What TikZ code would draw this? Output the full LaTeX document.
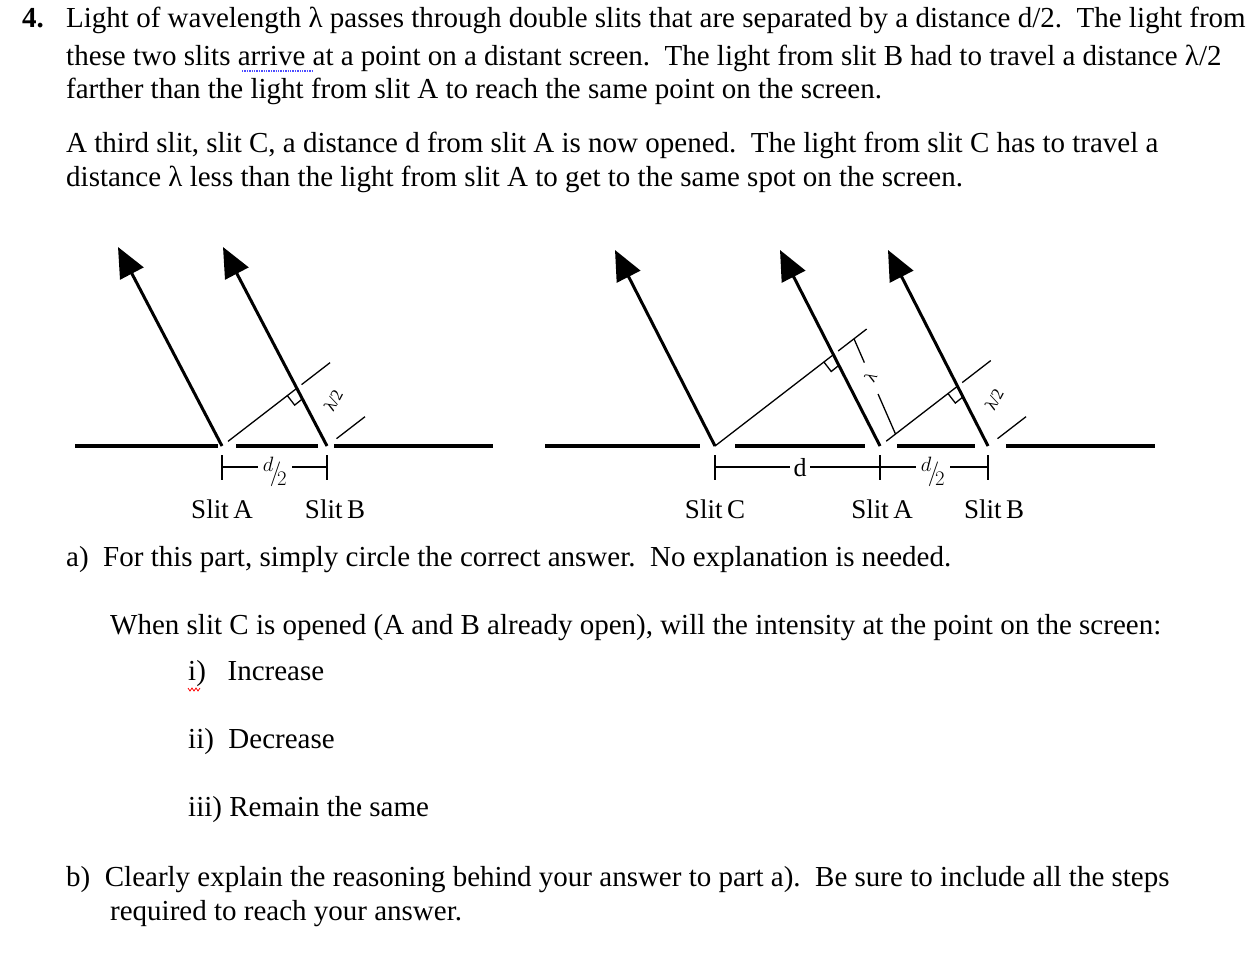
\documentclass[tikz,border=0pt]{standalone}
\usepackage{fontspec}
\setmainfont{Liberation Serif}
\usetikzlibrary{calc,arrows.meta,intersections}
\begin{document}
\begin{tikzpicture}[x=1pt,y=-1pt,
  txt/.style={anchor=base west,inner sep=0,font=\fontsize{29}{30}\selectfont},
  lbl/.style={anchor=base,inner sep=0,font=\fontsize{27}{28}\selectfont},
  scr/.style={line width=4.5pt},
  ray/.style={line width=3pt,-{Triangle[length=30pt,width=26pt]}},
  thin/.style={line width=1.3pt},
  dim/.style={line width=1.6pt},
  lam/.style={rotate=62,font=\fontsize{17}{17}\selectfont,inner sep=0}]
\useasboundingbox (0,0) rectangle (1246,966);
\clip (0,0) rectangle (1246,966);
% text
\node[txt,font=\bfseries\fontsize{29}{30}\selectfont] (n4) at (22,28) {4.};
\node[txt] (l1) at (66,28) {Light of wavelength λ passes through double slits that are separated by a distance d/2.\ \ The light from};
\node[txt] (l2) at (66,66) {these two slits arrive at a point on a distant screen.\ \ The light from slit B had to travel a distance λ/2};
\node[txt] (l3) at (66,98) {farther than the light from slit A to reach the same point on the screen.};
\draw[blue!70,densely dotted,line width=1.4pt] (242,71) -- (312,71);
\node[txt] (l4) at (66,152) {A third slit, slit C, a distance d from slit A is now opened.\ \ The light from slit C has to travel a};
\node[txt] (l5) at (66,186) {distance λ less than the light from slit A to get to the same spot on the screen.};
\node[txt] (qa) at (66,566) {a)\ \ For this part, simply circle the correct answer.\ \ No explanation is needed.};
\node[txt] (q1) at (110,634) {When slit C is opened (A and B already open), will the intensity at the point on the screen:};
\node[txt] (o1) at (188,680) {i)\ \ \ Increase};
\draw[red,line width=0.8pt] (188,688) -- (190,691) -- (192,688) -- (194,691) -- (196,688) -- (198,691) -- (200,688);
\node[txt] (o2) at (188,748) {ii)\ \ Decrease};
\node[txt] (o3) at (188,816) {iii) Remain the same};
\node[txt] (qb) at (66,886) {b)\ \ Clearly explain the reasoning behind your answer to part a).\ \ Be sure to include all the steps};
\node[txt] (qb2) at (110,920) {required to reach your answer.};
% ---- left diagram
\coordinate (A) at (222,446); \coordinate (B) at (327,446);
\coordinate (At) at (118,247); \coordinate (Bt) at (223,247);
\draw[scr] (75,446) -- (218,446); \draw[scr] (236,446) -- (318,446); \draw[scr] (334,446) -- (493,446);
\draw[ray,name path=rb] (B) -- (Bt); \draw[ray] (A) -- (At);
\path[name path=pa] (A) -- ++(140,-108);
\path[name intersections={of=pa and rb,by=F}];
\coordinate (Bp) at ($(B)+(F)-(A)$);
\draw[thin] ($(A)!0.08!(F)$) -- (F);
\draw[thin] ($(F)!12pt!(A)$) -- ($(F)!12pt!(A)!12pt!-90:(F)$) -- ($(F)!12pt!(B)$);
\draw[thin] ($(F)!-6pt!(A)$) -- ($(F)!-42pt!(A)$);
\draw[thin] ($(B)!12pt!(Bp)$) -- ($(B)!48pt!(Bp)$);
\node[lam] (lamL) at ($($(F)!-24pt!(A)$)!0.5!($(B)!30pt!(Bp)$)$) {λ/2};
\draw[dim] (A)++(0,9) -- ++(0,25); \draw[dim] (B)++(0,9) -- ++(0,25);
\draw[dim] (222,467) -- (258,467); \draw[dim] (292,467) -- (327,467);
\node[inner sep=0,font=\fontsize{28}{28}\selectfont] (dh) at (275,472) {$^d\!/\!_2$};
\node[lbl] (sA) at (222,518) {Slit\,A}; \node[lbl] (sB) at (335,518) {Slit\,B};
% ---- right diagram
\coordinate (C2) at (715,446); \coordinate (A2) at (880,446); \coordinate (B2) at (988,446);
\coordinate (Ct) at (615,250); \coordinate (At2) at (780,250); \coordinate (Bt2) at (888,250);
\draw[scr] (545,446) -- (700,446); \draw[scr] (735,446) -- (865,446); \draw[scr] (897,446) -- (975,446); \draw[scr] (1006,446) -- (1155,446);
\draw[ray] (C2) -- (Ct); \draw[ray,name path=ra2] (A2) -- (At2); \draw[ray,name path=rb2] (B2) -- (Bt2);
\path[name path=pc] (C2) -- ++(210,-162);
\path[name intersections={of=pc and ra2,by=F1}];
\draw[thin] (C2) -- (F1);
\draw[thin] ($(F1)!12pt!(C2)$) -- ($(F1)!12pt!(C2)!12pt!-90:(F1)$) -- ($(F1)!12pt!(A2)$);
\draw[thin] ($(F1)!-6pt!(C2)$) -- ($(F1)!-42pt!(C2)$);
\path[name path=pa2] (A2) -- ++(140,-108);
\path[name intersections={of=pa2 and rb2,by=F2}];
\coordinate (Bp2) at ($(B2)+(F2)-(A2)$);
\draw[thin] ($(A2)!0.08!(F2)$) -- (F2);
\draw[thin] ($(F2)!12pt!(A2)$) -- ($(F2)!12pt!(A2)!12pt!-90:(F2)$) -- ($(F2)!12pt!(B2)$);
\draw[thin] ($(F2)!-6pt!(A2)$) -- ($(F2)!-42pt!(A2)$);
\draw[thin] ($(B2)!12pt!(Bp2)$) -- ($(B2)!48pt!(Bp2)$);
\node[lam] (lamR) at ($($(F2)!-24pt!(A2)$)!0.5!($(B2)!30pt!(Bp2)$)$) {λ/2};
% lambda dimension between F1 tick and A2 perpendicular
\coordinate (T1) at ($(F1)!-26pt!(C2)$);
\coordinate (T0) at ($(A2)!0.2!(F2)$);
\draw[thin] (T0) -- ($(T0)!0.42!(T1)$);
\draw[thin] ($(T0)!0.75!(T1)$) -- (T1);
\node[lam] (lamC) at ($(T0)!0.6!(T1)$) {λ};
\draw[dim] (C2)++(0,9) -- ++(0,25); \draw[dim] (A2)++(0,9) -- ++(0,25); \draw[dim] (B2)++(0,9) -- ++(0,25);
\draw[dim] (715,467) -- (790,467); \draw[dim] (810,467) -- (880,467);
\draw[dim] (880,467) -- (916,467); \draw[dim] (950,467) -- (988,467);
\node[inner sep=0,font=\fontsize{26}{26}\selectfont] (dd) at (800,468) {d};
\node[inner sep=0,font=\fontsize{28}{28}\selectfont] (dh2) at (933,472) {$^d\!/\!_2$};
\node[lbl] (sC2) at (715,518) {Slit\,C}; \node[lbl] (sA2) at (882,518) {Slit\,A}; \node[lbl] (sB2) at (994,518) {Slit\,B};
\end{tikzpicture}
\end{document}
